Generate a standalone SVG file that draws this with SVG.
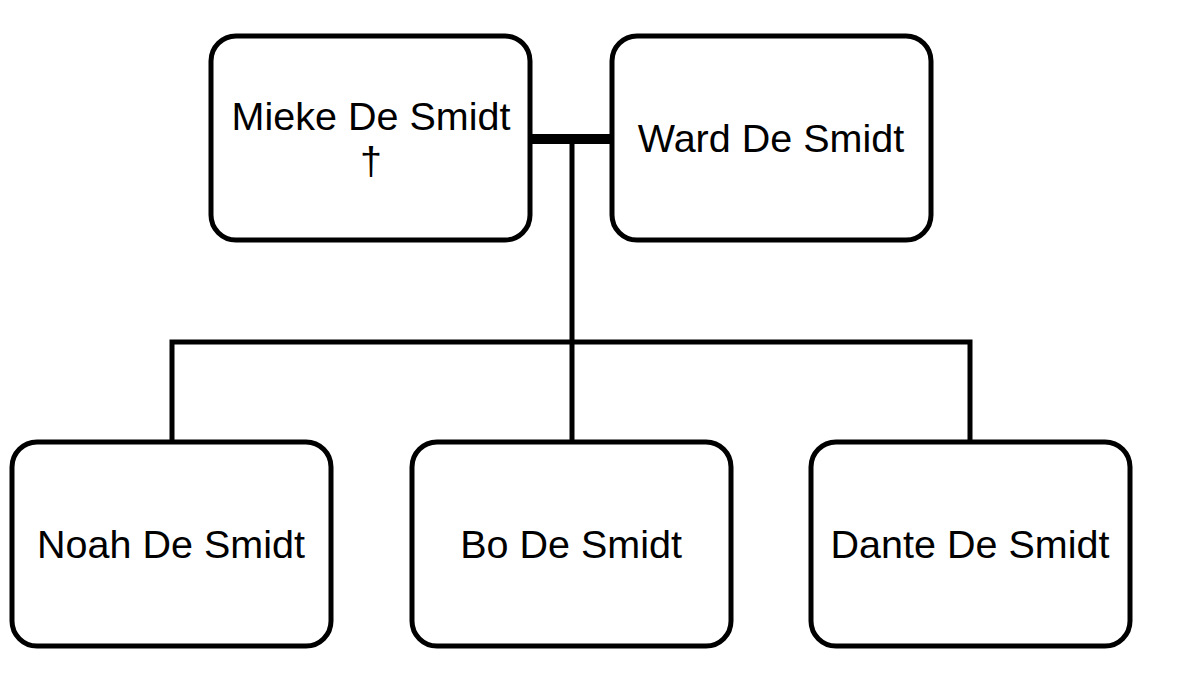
<svg xmlns="http://www.w3.org/2000/svg" width="1200" height="675" viewBox="0 0 1200 675">
<style>
.n{fill:#fff;stroke:#000;stroke-width:5}
.t{font-family:"Liberation Sans",Arial,sans-serif;font-size:39.5px;text-anchor:middle;fill:#000}
.c{stroke:#000;stroke-width:5;fill:none}
</style>
<rect width="1200" height="675" fill="#fff"/>
<g id="connectors">
<line class="c" x1="530" y1="139" x2="612" y2="139" style="stroke-width:10"/>
<polyline class="c" points="572,139 572,342"/>
<polyline class="c" points="172,442 172,342 970,342 970,442"/>
<line class="c" x1="572" y1="342" x2="572" y2="442"/>
</g>
<g id="mieke"><rect class="n" x="211" y="36" width="319" height="204" rx="25"/>
<text class="t" x="371" y="130">Mieke De Smidt</text><text class="t" x="371" y="174">†</text></g>
<g id="ward"><rect class="n" x="612" y="36" width="319" height="204" rx="25"/>
<text class="t" x="771" y="152">Ward De Smidt</text></g>
<g id="noah"><rect class="n" x="12" y="442" width="319" height="204" rx="25"/>
<text class="t" x="171" y="558">Noah De Smidt</text></g>
<g id="bo"><rect class="n" x="412" y="442" width="319" height="204" rx="25"/>
<text class="t" x="571" y="558">Bo De Smidt</text></g>
<g id="dante"><rect class="n" x="811" y="442" width="319" height="204" rx="25"/>
<text class="t" x="970" y="558">Dante De Smidt</text></g>
</svg>
